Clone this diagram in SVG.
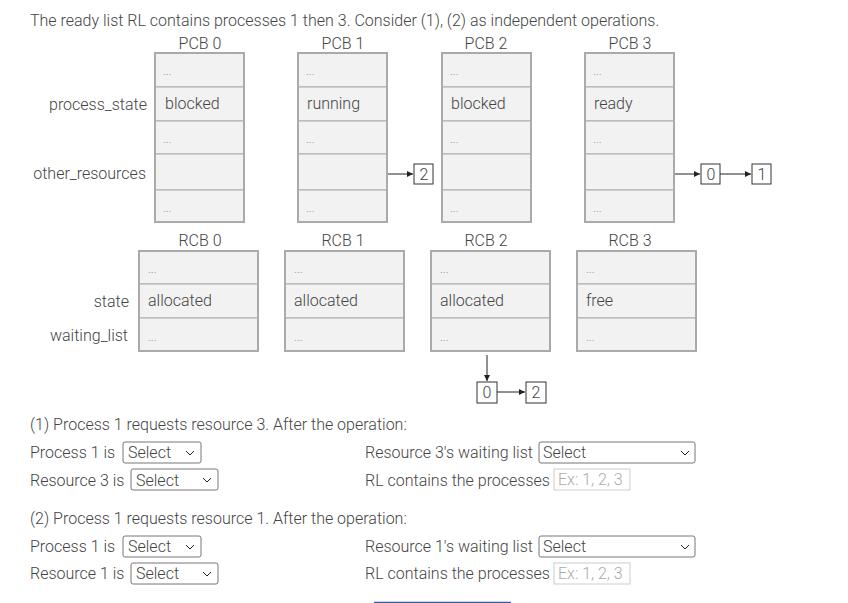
<svg xmlns="http://www.w3.org/2000/svg" width="848" height="603" viewBox="0 0 848 603">
<style>
text{font-family:Roboto,"Liberation Sans",sans-serif;font-size:16px;fill:#444;font-weight:300}
.c{fill:#f2f2f2;stroke:#aaa;stroke-width:1}
.o{fill:none;stroke:#aaa;stroke-width:2}
.d{font-size:12px;fill:#888}
.m{text-anchor:middle}
.e{text-anchor:end}
.b{fill:#fff;stroke:#333;stroke-width:1}
.l{stroke:#222;stroke-width:1;fill:none}
.s{fill:#fff;stroke:#777;stroke-width:1;rx:2}
.i{fill:#fff;stroke:#ccc;stroke-width:1}
.p{font-size:16px;fill:#aaa}
</style>
<defs>
<marker id="a" viewBox="0 0 6 6" refX="6" refY="3" markerWidth="6" markerHeight="6" orient="auto"><path d="M0,0L6,3L0,6z" fill="#222"/></marker>
<g id="pcb"><rect class="c" x="0" y="0" width="89" height="34"/><rect class="c" x="0" y="34" width="89" height="34"/><rect class="c" x="0" y="68" width="89" height="33"/><rect class="c" x="0" y="101" width="89" height="36"/><rect class="c" x="0" y="137" width="89" height="32"/><rect class="o" x="0" y="0" width="89" height="169"/>
<text class="d" x="8" y="22">...</text><text class="d" x="8" y="90">...</text><text class="d" x="8" y="159">...</text></g>
<g id="rcb"><rect class="c" x="0" y="0" width="119" height="33"/><rect class="c" x="0" y="33" width="119" height="34"/><rect class="c" x="0" y="67" width="119" height="33"/><rect class="o" x="0" y="0" width="119" height="100"/>
<text class="d" x="9" y="22">...</text><text class="d" x="9" y="90">...</text></g>
</defs>
<text x="30" y="26">The ready list RL contains processes 1 then 3. Consider (1), (2) as independent operations.</text>
<text class="e" x="147" y="110">process_state</text>
<text class="e" x="146" y="179">other_resources</text>
<text class="e" x="129" y="307">state</text>
<text class="e" x="128" y="341">waiting_list</text>
<g id="pcb0"><text class="m" x="200" y="49">PCB 0</text><use href="#pcb" x="155" y="53"/><text x="165" y="109">blocked</text></g>
<g id="pcb1"><text class="m" x="343" y="49">PCB 1</text><use href="#pcb" x="298" y="53"/><text x="307" y="109">running</text></g>
<g id="pcb2"><text class="m" x="486" y="49">PCB 2</text><use href="#pcb" x="442" y="53"/><text x="451" y="109">blocked</text></g>
<g id="pcb3"><text class="m" x="630" y="49">PCB 3</text><use href="#pcb" x="585" y="53"/><text x="594" y="109">ready</text></g>
<g id="rcb0"><text class="m" x="200" y="246">RCB 0</text><use href="#rcb" x="139" y="251"/><text x="148" y="306">allocated</text></g>
<g id="rcb1"><text class="m" x="343" y="246">RCB 1</text><use href="#rcb" x="285" y="251"/><text x="294" y="306">allocated</text></g>
<g id="rcb2"><text class="m" x="486" y="246">RCB 2</text><use href="#rcb" x="431" y="251"/><text x="440" y="306">allocated</text></g>
<g id="rcb3"><text class="m" x="630" y="246">RCB 3</text><use href="#rcb" x="577" y="251"/><text x="586" y="306">free</text></g>
<g id="n2a"><rect class="b" x="414" y="164" width="19" height="20"/><text class="m" x="424" y="180">2</text></g>
<g id="n0a"><rect class="b" x="701" y="164" width="19" height="20"/><text class="m" x="711" y="180">0</text></g>
<g id="n1a"><rect class="b" x="752" y="164" width="19" height="20"/><text class="m" x="762" y="180">1</text></g>
<g id="n0b"><rect class="b" x="477" y="382" width="20" height="21"/><text class="m" x="487" y="398">0</text></g>
<g id="n2b"><rect class="b" x="526" y="382" width="20" height="21"/><text class="m" x="536" y="398">2</text></g>
<g id="connectors">
<line class="l" x1="388" y1="174" x2="413" y2="174" marker-end="url(#a)"/>
<line class="l" x1="675" y1="174" x2="700" y2="174" marker-end="url(#a)"/>
<line class="l" x1="720" y1="174" x2="751" y2="174" marker-end="url(#a)"/>
<line class="l" x1="487" y1="355" x2="487" y2="381" marker-end="url(#a)"/>
<line class="l" x1="497" y1="392" x2="525" y2="392" marker-end="url(#a)"/>
</g>
<g id="form">
<text x="30" y="430">(1) Process 1 requests resource 3. After the operation:</text>
<text x="30" y="458">Process 1 is</text>
<rect class="s" x="123" y="442" width="78" height="21"/><text x="128" y="458">Select</text><path d="M186,451l4,4l4,-4" class="l" stroke-width="1.5"/>
<text x="30" y="486">Resource 3 is</text>
<rect class="s" x="131" y="469" width="87" height="21"/><text x="136" y="486">Select</text><path d="M203,478l4,4l4,-4" class="l" stroke-width="1.5"/>
<text x="365" y="458">Resource 3's waiting list</text>
<rect class="s" x="539" y="442" width="156" height="21"/><text x="543" y="458">Select</text><path d="M681,451l4,4l4,-4" class="l" stroke-width="1.5"/>
<text x="365" y="486">RL contains the processes</text>
<rect class="i" x="554" y="469" width="76" height="21"/><text class="p" x="558" y="485">Ex: 1, 2, 3</text>
<text x="30" y="524">(2) Process 1 requests resource 1. After the operation:</text>
<text x="30" y="552">Process 1 is</text>
<rect class="s" x="123" y="536" width="78" height="21"/><text x="128" y="552">Select</text><path d="M186,545l4,4l4,-4" class="l" stroke-width="1.5"/>
<text x="30" y="579">Resource 1 is</text>
<rect class="s" x="131" y="563" width="87" height="21"/><text x="136" y="579">Select</text><path d="M203,572l4,4l4,-4" class="l" stroke-width="1.5"/>
<text x="365" y="552">Resource 1's waiting list</text>
<rect class="s" x="539" y="536" width="156" height="21"/><text x="543" y="552">Select</text><path d="M681,545l4,4l4,-4" class="l" stroke-width="1.5"/>
<text x="365" y="579">RL contains the processes</text>
<rect class="i" x="554" y="563" width="76" height="21"/><text class="p" x="558" y="579">Ex: 1, 2, 3</text>
<line x1="374" y1="602.5" x2="511" y2="602.5" stroke="#3a5a9a" stroke-width="1.5"/>
</g>
</svg>
